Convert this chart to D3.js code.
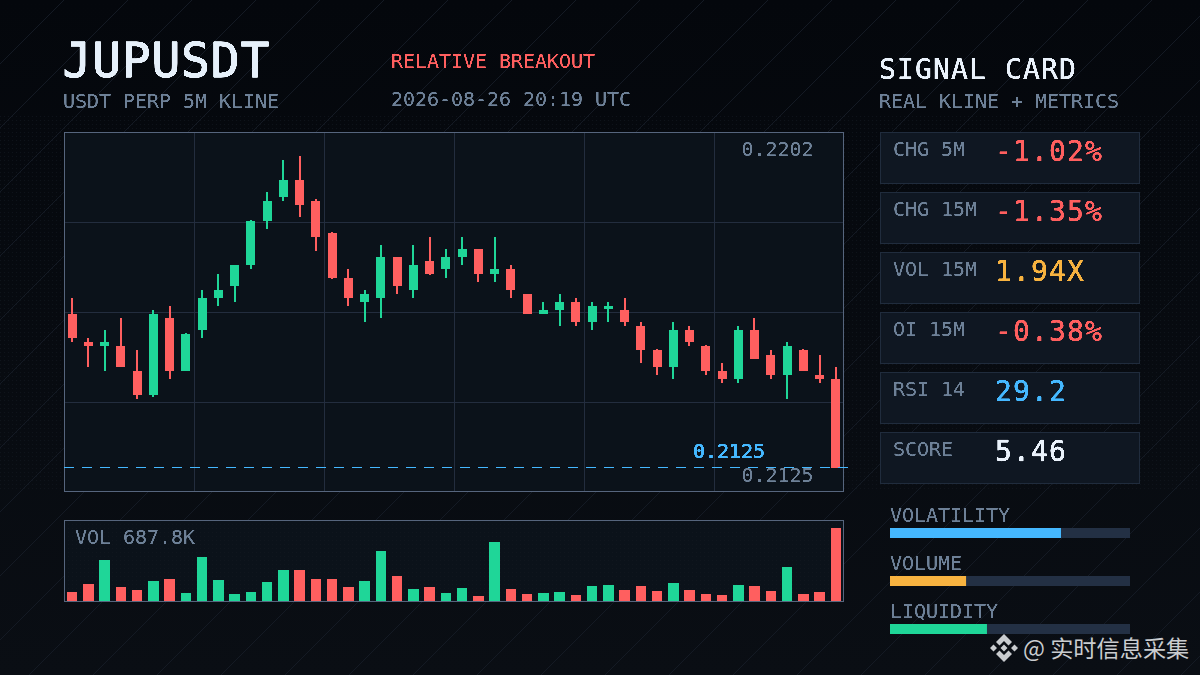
<!DOCTYPE html>
<html><head><meta charset="utf-8">
<script src="https://cdn.jsdelivr.net/npm/d3@7/dist/d3.min.js"></script>
<style>html,body{margin:0;padding:0;background:#05080d;overflow:hidden}svg{display:block}text{font-family:"DejaVu Sans Mono",monospace}</style>
</head><body><svg id="c" width="1200" height="675"></svg>
<script>
const symbol="JUPUSDT", subtitle="USDT PERP 5M KLINE", setup="RELATIVE BREAKOUT", stamp="2026-08-26 20:19 UTC";
const cardTitle="SIGNAL CARD", cardSub="REAL KLINE + METRICS";
const opens =[.2163,.2156,.2155,.2155,.2149,.2143,.2162,.2149,.2159,.2167,.2170,.2175,.2186,.2192,.2196,.2191,.2183,.2172,.2166,.2167,.2177,.2169,.2176,.2174,.2177,.2179,.2173,.2174,.2168,.2163,.2164,.2166,.2161,.21643,.2164,.2160,.2154,.2150,.2159,.2155,.2149,.2147,.2159,.2153,.2148,.2154,.2148,.2147];
const highs =[.2167,.2157,.2159,.2162,.2154,.2164,.2165,.21583,.2169,.2173,.2175,.21863,.2193,.2201,.2202,.21913,.21833,.2174,.2169,.2180,.2177,.2180,.2182,.2179,.2182,.2179,.2182,.2175,.2168,.2166,.2168,.2167,.2166,.2166,.2167,.2161,.21543,.2161,.2160,.21553,.2151,.2160,.2162,.2154,.2156,.21543,.2153,.2150];
const lows  =[.2156,.2150,.2149,.2150,.2142,.21425,.2147,.2149,.2157,.2165,.2166,.2174,.2184,.2191,.2187,.21785,.21717,.2165,.2161,.2162,.2168,.2167,.21727,.2172,.2175,.2171,.2171,.2167,.2163,.2163,.2160,.2160,.2159,.2161,.2160,.2151,.2148,.2147,.2155,.2148,.2146,.2146,.2152,.2147,.2142,.2149,.2146,.2125];
const closes=[.2157,.2155,.2156,.2150,.2143,.2163,.2149,.2158,.2167,.2169,.2175,.2186,.2191,.2196,.2190,.2182,.2172,.2167,.2168,.2177,.2170,.2175,.2173,.2177,.2179,.2173,.2174,.2169,.2163,.2164,.2166,.2161,.2165,.2165,.2161,.2154,.2150,.2159,.2156,.2149,.2147,.2159,.2152,.2148,.2155,.2149,.2147,.2125];
const volumes=[87,162,387,134,106,190,209,78,415,199,68,87,181,293,293,209,209,134,190,471,237,115,134,78,125,50,555,115,68,78,87,59,143,153,106,143,97,171,106,68,59,153,143,97,321,68,87,687.8];
const priceTop=0.2202, priceLow=0.2125, lastPrice="0.2125", volLabel="VOL 687.8K";
const metricLabels=["CHG 5M","CHG 15M","VOL 15M","OI 15M","RSI 14","SCORE"];
const metricValues=["-1.02%","-1.35%","1.94X","-0.38%","29.2","5.46"];
const metricColors=["#ff5f5f","#ff5f5f","#f8b340","#ff5f5f","#45b8ff","#eaf2fb"];
const meterLabels=["VOLATILITY","VOLUME","LIQUIDITY"];
const meterValues=[0.7125,0.317,0.404];
const meterColors=["#45b8ff","#f8b340","#1fd698"];
const watermark="@ 实时信息采集";

const UP="#1fd698",DN="#ff5f5f",GREY="#6d8097",W="#eaf2fb",FRAME="#56657d",GRID="#232d3e";
const svg=d3.select("#c"),defs=svg.append("defs");
const bg=defs.append("linearGradient").attr("id","bg").attr("x1",0).attr("y1",0).attr("x2",0).attr("y2",1);
bg.append("stop").attr("offset",0).attr("stop-color","#04070c");
bg.append("stop").attr("offset",1).attr("stop-color","#0a0e14");
svg.append("rect").attr("width",1200).attr("height",675).attr("fill","url(#bg)");
const dg=defs.append("pattern").attr("id","diag").attr("patternUnits","userSpaceOnUse").attr("width",64).attr("height",64);
dg.append("line").attr("x1",0).attr("y1",64).attr("x2",64).attr("y2",0).attr("stroke","#141a24").attr("stroke-width",1);
svg.append("rect").attr("width",1200).attr("height",675).attr("fill","url(#diag)");
const dt=defs.append("pattern").attr("id","dots").attr("patternUnits","userSpaceOnUse").attr("width",4).attr("height",4);
dt.append("rect").attr("width",1).attr("height",1).attr("fill","#141a22");
svg.append("rect").attr("y",115).attr("width",1200).attr("height",375).attr("fill","url(#dots)").attr("opacity",.6);
// hardens glyph edges so the mono text reads closer to the bitmap look
const cr=defs.append("filter").attr("id","crisp").attr("x","-5%").attr("y","-20%").attr("width","110%").attr("height","140%");
cr.append("feComponentTransfer").append("feFuncA").attr("type","linear").attr("slope",3.2).attr("intercept",-.9);

function label(t,x,y,size,fill,o={}){
  return svg.append("text").text(t).attr("x",x).attr("y",y).attr("font-size",size).attr("fill",fill)
   .attr("stroke",o.s?fill:"none").attr("stroke-width",o.s||0).attr("filter","url(#crisp)")
   .attr("letter-spacing",o.ls===undefined?-.04:o.ls).attr("text-anchor",o.a||"start");
}
label(symbol,62.5,77,48,"#e6f0fa",{s:.9,ls:.75});
label(subtitle,63,108,20,GREY);
label(setup,391,68,20,DN);
label(stamp,391,106,20,GREY);
label(cardTitle,879,79,28,W,{ls:1.15,s:.2});
label(cardSub,879,108,20,GREY);

// price panel
const P={x:64.5,y:132.5,w:779,h:359};
const x=d3.scaleLinear().domain([0,47]).range([72.5,836.25]);
const y=d3.scaleLinear().domain([priceLow,priceTop]).range([468,156]);
svg.append("rect").attr("x",P.x).attr("y",P.y).attr("width",P.w).attr("height",P.h).attr("fill","#0b121a");
const gridX=[1,2,3,4,5].map(i=>P.x+i*130), gridY=[1,2,3].map(i=>P.y+i*90);
svg.selectAll(".gx").data(gridX).join("line").attr("x1",d=>d).attr("x2",d=>d).attr("y1",P.y).attr("y2",P.y+P.h).attr("stroke",GRID);
svg.selectAll(".gy").data(gridY).join("line").attr("x1",P.x).attr("x2",P.x+P.w).attr("y1",d=>d).attr("y2",d=>d).attr("stroke",GRID);
svg.append("rect").attr("x",P.x).attr("y",P.y).attr("width",P.w).attr("height",P.h).attr("fill","none").attr("stroke",FRAME);

const idx=d3.range(opens.length);
const col=i=>closes[i]>=opens[i]?UP:DN;
const g=svg.append("g").attr("shape-rendering","crispEdges");
g.selectAll(".w").data(idx).join("rect").attr("x",i=>Math.floor(x(i)-1)).attr("width",2)
 .attr("y",i=>Math.round(y(highs[i]))).attr("height",i=>Math.round(y(lows[i]))-Math.round(y(highs[i]))).attr("fill",col);
g.selectAll(".b").data(idx).join("rect").attr("x",i=>Math.floor(x(i)-4.5)).attr("width",9)
 .attr("y",i=>Math.round(y(Math.max(opens[i],closes[i]))))
 .attr("height",i=>Math.max(3,Math.round(y(Math.min(opens[i],closes[i])))-Math.round(y(Math.max(opens[i],closes[i])))))
 .attr("fill",col);

label(priceTop.toFixed(4),813.5,156,20,GREY,{a:"end"});
label(lastPrice,813.5,482,20,GREY,{a:"end"});
svg.append("line").attr("x1",64).attr("x2",849).attr("y1",y(priceLow)-.5).attr("y2",y(priceLow)-.5)
  .attr("stroke","#45b8ff").attr("stroke-dasharray","10 8");
label(lastPrice,693,458,20,"#45b8ff",{s:.4});

// volume panel
const V={x:64.5,y:520.5,w:779,h:81};
svg.append("rect").attr("x",V.x).attr("y",V.y).attr("width",V.w).attr("height",V.h).attr("fill","#0b121a");
svg.append("rect").attr("x",V.x).attr("y",V.y).attr("width",V.w).attr("height",V.h).attr("fill","url(#dots)").attr("opacity",.5);
const vy=d3.scaleLinear().domain([0,687.8]).range([601,527.7]);
svg.append("g").attr("shape-rendering","crispEdges").selectAll("rect").data(idx).join("rect")
 .attr("x",i=>Math.floor(x(i)-5.2)).attr("width",i=>Math.floor(x(i)+5.4)-Math.floor(x(i)-5.2))
 .attr("y",i=>vy(volumes[i])).attr("height",i=>601-vy(volumes[i])).attr("fill",col);
svg.append("rect").attr("x",V.x).attr("y",V.y).attr("width",V.w).attr("height",V.h).attr("fill","none").attr("stroke",FRAME);
label(volLabel,75,544,20,GREY);

// metric cards
metricLabels.forEach((m,i)=>{
  const top=132+i*60;
  svg.append("rect").attr("x",880.5).attr("y",top+.5).attr("width",259).attr("height",51).attr("fill","#0f1722").attr("stroke","#202c3d");
  label(m,893,top+24,20,GREY);
  label(metricValues[i],995,top+29,28,metricColors[i],{ls:1.15,s:.3});
});
// meters
const mx=d3.scaleLinear().domain([0,1]).range([890,1130]);
meterLabels.forEach((m,i)=>{
  const top=528+i*48;
  label(m,890,top-6,20,GREY);
  svg.append("rect").attr("x",mx(0)).attr("y",top).attr("width",mx(1)-mx(0)).attr("height",10).attr("fill","#233044");
  svg.append("rect").attr("x",mx(0)).attr("y",top).attr("width",mx(meterValues[i])-mx(0)).attr("height",10).attr("fill",meterColors[i]);
});
// watermark
svg.append("path").attr("transform","translate(1004,648)").attr("fill","#c9cccf")
 .attr("d","M0-14L8-6 4.5-2.5 0-7-4.5-2.5-8-6Z M0 14L8 6 4.5 2.5 0 7-4.5 2.5-8 6Z M-10.5-3.5L-7 0-10.5 3.5-14 0Z M10.5-3.5L14 0 10.5 3.5 7 0Z M0-3.5L3.5 0 0 3.5-3.5 0Z");
svg.append("text").text(watermark).attr("x",1023).attr("y",657).attr("font-size",23.2).attr("fill","#c9cccf")
  .style("font-family",'"Noto Sans CJK SC",sans-serif');
</script></body></html>
